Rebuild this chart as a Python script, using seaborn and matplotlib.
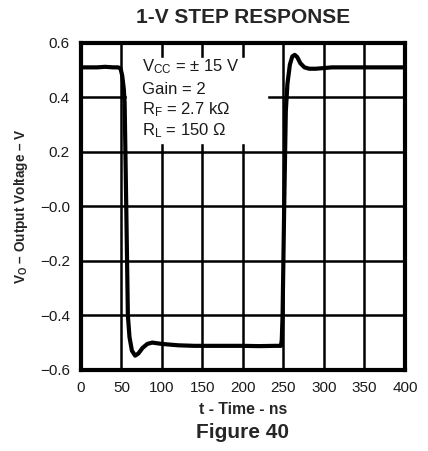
import numpy as np
import pandas as pd
import seaborn as sns
import matplotlib.pyplot as plt

# Datos
tiempo_ns = [0, 10, 20, 30, 40, 46, 49, 51, 53, 54, 56, 58, 60, 63, 67, 71, 76, 82, 88,
             100, 120, 140, 160, 180, 200, 220, 240, 247, 248, 249, 251, 253, 255, 258,
             261, 264, 267, 271, 276, 282, 290, 310, 330, 350, 370, 390, 400]
voltaje_v = [0.51, 0.51, 0.51, 0.512, 0.51, 0.51, 0.505, 0.48, 0.43, 0.38, 0.0, -0.4, -0.48,
             -0.53, -0.548, -0.54, -0.52, -0.505, -0.50, -0.505, -0.51, -0.512, -0.512,
             -0.512, -0.512, -0.513, -0.512, -0.512, -0.49, -0.4, 0.0, 0.35, 0.45, 0.52,
             0.55, 0.556, 0.548, 0.525, 0.51, 0.505, 0.505, 0.51, 0.51, 0.51, 0.51, 0.51, 0.51]

xticks = [0, 50, 100, 150, 200, 250, 300, 350, 400]
yticks = [0.6, 0.4, 0.2, 0.0, -0.2, -0.4, -0.6]
yticklabels = ['0.6', '0.4', '0.2', '\u22120.0', '\u22120.2', '\u22120.4', '\u22120.6']

# Condiciones de prueba
condiciones = ['V$_{CC}$ = \u00b1 15 V', 'Gain = 2', 'R$_{F}$ = 2.7 k\u03a9', 'R$_{L}$ = 150 \u03a9']

df = pd.DataFrame({'t': tiempo_ns, 'v': voltaje_v})

sns.set_style('white')
plt.rcParams['font.family'] = ['Liberation Sans', 'DejaVu Sans']
plt.rcParams['mathtext.fontset'] = 'custom'
plt.rcParams['mathtext.rm'] = 'Liberation Sans'
plt.rcParams['mathtext.it'] = 'Liberation Sans'
plt.rcParams['mathtext.bf'] = 'Liberation Sans:bold'

fig = plt.figure(figsize=(4.28, 4.51), dpi=100)
ax = fig.add_axes([0.189, 0.180, 0.757, 0.725])

ax.set_xlim(0, 400)
ax.set_ylim(-0.6, 0.6)
ax.set_xticks(xticks)
ax.set_yticks(yticks)
ax.set_yticklabels(yticklabels)
ax.tick_params(length=0, labelsize=11, pad=8, colors='#1a1a1a')
ax.grid(True, color='black', linewidth=1.8)
ax.set_axisbelow(True)
for s in ax.spines.values():
    s.set_linewidth(3)
    s.set_color('black')

# Fondo blanco de la caja de texto (tapa la grilla)
ax.fill_between([57, 230], 0.233, 0.545, color='white', zorder=1.5)

sns.lineplot(data=df, x='t', y='v', color='black', linewidth=3, ax=ax, zorder=3,
             sort=False)

ybase = [0.494, 0.413, 0.336, 0.259]
for txt, yb in zip(condiciones, ybase):
    ax.text(75, yb, txt, fontsize=12, va='baseline', ha='left', zorder=4, color='#1a1a1a')

ax.set_xlabel('')
ax.set_ylabel('V$_{\\mathbf{O}}$ \u2013 Output Voltage \u2013 V', fontsize=9.8,
              fontweight='bold')
ax.yaxis.set_label_coords(-0.158, 0.5)
fig.text(0.567, 0.962, '1-V STEP RESPONSE', fontsize=15, fontweight='bold',
         ha='center', va='center')
fig.text(0.567, 0.091, 't - Time - ns', fontsize=11.3, fontweight='bold',
         ha='center', va='center')
fig.text(0.567, 0.042, 'Figure 40', fontsize=15, fontweight='bold',
         ha='center', va='center')

fig.savefig('out.png', dpi=100)
